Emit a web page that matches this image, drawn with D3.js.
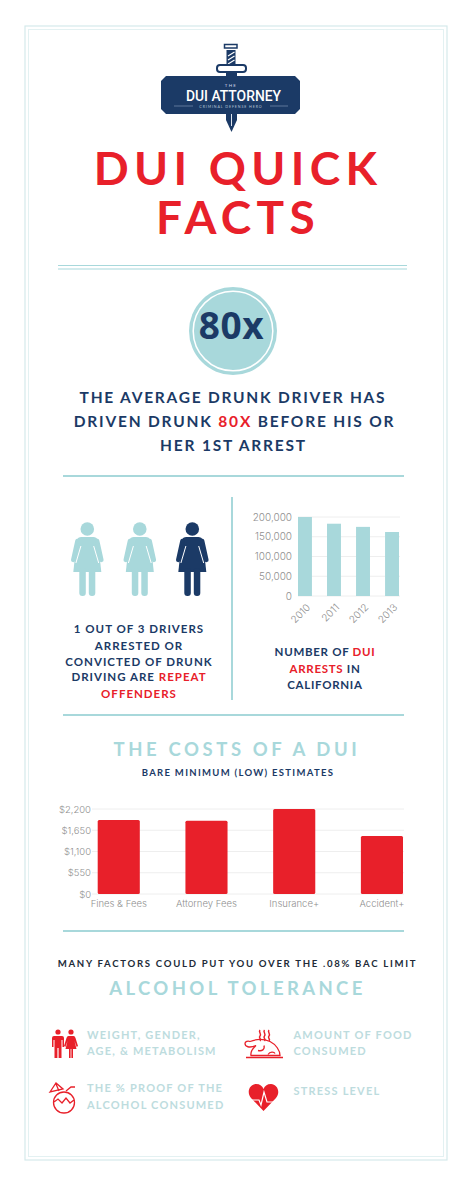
<!DOCTYPE html>
<html>
<head>
<meta charset="utf-8">
<script src="https://cdn.jsdelivr.net/npm/d3@7"></script>
<style>
  html, body { margin: 0; padding: 0; background: #fff; }
  svg { display: block; }
  text { font-family: Lato, sans-serif; }
  .axis text { font-family: Inter, "Open Sans", sans-serif; font-weight: 300; fill: #8f8f8f; }
  .axis path, .axis line { display: none; }
</style>
</head>
<body>
<svg id="chart" width="474" height="1185"></svg>
<script>
const navy = "#1b3a66", red = "#e8202a", teal = "#a8d8db", paleTeal = "#bddcde";

const arrestYears = ["2010", "2011", "2012", "2013"];
const arrestValues = [200000, 183000, 175000, 162000];
const arrestTicks = [0, 50000, 100000, 150000, 200000];

const costLabels = ["Fines & Fees", "Attorney Fees", "Insurance+", "Accident+"];
const costValues = [1915, 1895, 2200, 1500];
const costTicks = [0, 550, 1100, 1650, 2200];

const peopleColors = [teal, teal, navy];

const svg = d3.select("#chart");

// frame
svg.append("rect").attr("x", 25).attr("y", 26).attr("width", 422).attr("height", 1134)
  .attr("fill", "none").attr("stroke", "#d5eaeb").attr("stroke-width", 1.2);
svg.append("rect").attr("x", 28.5).attr("y", 29.5).attr("width", 415).attr("height", 1127)
  .attr("fill", "none").attr("stroke", "#e3f1f2").attr("stroke-width", 1);

function label(txt, x, y, size, color, spacing, weight, anchor) {
  return svg.append("text").attr("x", x).attr("y", y)
    .attr("font-size", size).attr("fill", color)
    .attr("font-weight", weight || 700)
    .attr("letter-spacing", spacing || 0)
    .attr("text-anchor", anchor || "middle")
    .text(txt);
}

// mixed colour line, parts = [[text, color], ...]
function richLabel(parts, x, y, size, spacing, anchor) {
  let t = svg.append("text").attr("x", x).attr("y", y)
    .attr("font-size", size).attr("font-weight", 700)
    .attr("letter-spacing", spacing).attr("text-anchor", anchor || "middle");
  parts.forEach(p => t.append("tspan").attr("fill", p[1]).text(p[0]));
  return t;
}

function rule(x1, y1, x2, y2, w, color) {
  svg.append("line").attr("x1", x1).attr("y1", y1).attr("x2", x2).attr("y2", y2)
    .attr("stroke", color || teal).attr("stroke-width", w || 2);
}

// logo
const logo = svg.append("g");
logo.append("rect").attr("x", 224.5).attr("y", 44.5).attr("width", 12.5).attr("height", 3.5).attr("fill", "#fff").attr("stroke", navy).attr("stroke-width", 1.5);
logo.append("rect").attr("x", 226.5).attr("y", 50).attr("width", 9).attr("height", 16).attr("fill", navy);
[53, 57, 61].forEach(y => logo.append("line").attr("x1", 228).attr("y1", y + 3).attr("x2", 234.5).attr("y2", y - 1).attr("stroke", "#fff").attr("stroke-width", 1.2));
logo.append("rect").attr("x", 217).attr("y", 65).attr("width", 29).attr("height", 7).attr("rx", 3).attr("fill", "#fff").attr("stroke", navy).attr("stroke-width", 2);
logo.append("path").attr("d", "M226 73H237V120L231.5 132L226 120Z").attr("fill", navy);
rule(231.5, 114, 231.5, 126, 1, "#dfe6ef");
logo.append("path").attr("d", "M166 76H295L300 81V109L295 114H166L161 109V81Z").attr("fill", navy);
label("THE", 231, 87, 4.5, "#cdd8e6", 1.2, 400);
label("DUI ATTORNEY", 233.5, 100.5, 15, "#fff", 0, 500)
  .style("font-family", "Roboto")
  .attr("textLength", 95).attr("lengthAdjust", "spacingAndGlyphs");
label("CRIMINAL DEFENSE HERO", 231, 107.5, 3.6, "#b9c6d8", 0.9, 400);
rule(174, 106, 193, 106, 0.6, "#8ea3c0");
rule(270, 106, 288, 106, 0.6, "#8ea3c0");

// title
label("DUI QUICK", 238, 185, 46, red, 5.3, 700);
label("FACTS", 238, 234, 46, red, 5.3, 700);

rule(58, 265.5, 407, 265.5, 1.2);
rule(58, 269, 407, 269, 1.2);

// 80x badge
svg.append("circle").attr("cx", 233).attr("cy", 331).attr("r", 44).attr("fill", teal);
svg.append("circle").attr("cx", 233).attr("cy", 331).attr("r", 39.8).attr("fill", "none").attr("stroke", "#fff").attr("stroke-width", 1.5);
label("80x", 231.5, 339, 37, navy, 0.6, 700).style("font-family", "'Open Sans'");

richLabel([["THE AVERAGE DRUNK DRIVER HAS", navy]], 233, 403, 15.5, 1.75);
richLabel([["DRIVEN DRUNK ", navy], ["80X", red], [" BEFORE HIS OR", navy]], 234.5, 427, 15.5, 1.8);
richLabel([["HER 1ST ARREST", navy]], 233.5, 451, 15.5, 1.8);

rule(63, 476, 404, 476, 2);
rule(232, 497, 232, 700, 2);
rule(63, 715, 404, 715, 2);
rule(63, 931, 404, 931, 2);

// people, drawn around the waist of the figure
const peopleX = d3.scalePoint().domain(d3.range(peopleColors.length)).range([87.3, 192.3]);
const people = svg.selectAll(".person").data(peopleColors).enter().append("g")
  .attr("class", "person")
  .attr("transform", (d, i) => `translate(${peopleX(i)},560)`);
people.append("circle").attr("cy", -31).attr("r", 6.8).attr("fill", d => d);
people.append("path").attr("d", "M-6 -23H6C8 -23 10 -22 10.5 -20L14 12H-14L-10.5 -20C-10 -22 -8 -23 -6 -23Z").attr("fill", d => d);
[-1, 1].forEach(side => {
  people.append("path").attr("d", `M${side * 10} -19L${side * 14.2} 0`)
    .attr("stroke", d => d).attr("stroke-width", 4.2).attr("stroke-linecap", "round").attr("fill", "none");
  people.append("path").attr("d", `M${side * 6.4} -14L${side * 11.4} 3`)
    .attr("stroke", "#fff").attr("stroke-width", 1).attr("fill", "none");
  people.append("rect").attr("x", side < 0 ? -8 : 1.5).attr("y", 8).attr("width", 6.5).attr("height", 28).attr("rx", 3).attr("fill", d => d);
});

richLabel([["1 OUT OF 3 DRIVERS", navy]], 139, 633, 11.5, 1);
richLabel([["ARRESTED OR", navy]], 139, 650, 11.5, 1);
richLabel([["CONVICTED OF DRUNK", navy]], 139, 666, 11.5, 1);
richLabel([["DRIVING ARE ", navy], ["REPEAT", red]], 139, 681, 11.5, 1);
richLabel([["OFFENDERS", red]], 139, 698, 11.5, 1);

// arrests chart
const arrestX = d3.scaleBand().domain(arrestYears).range([298, 399]).paddingInner(0.52).paddingOuter(0);
const arrestY = d3.scaleLinear().domain([0, 200000]).range([596, 517]);

svg.append("g").selectAll("line").data(arrestTicks).enter().append("line")
  .attr("x1", 298).attr("x2", 400)
  .attr("y1", d => arrestY(d)).attr("y2", d => arrestY(d))
  .attr("stroke", "#eeeeee");
svg.append("g").selectAll("rect").data(arrestValues).enter().append("rect")
  .attr("x", (d, i) => arrestX(arrestYears[i]))
  .attr("y", d => arrestY(d))
  .attr("width", arrestX.bandwidth())
  .attr("height", d => arrestY(0) - arrestY(d))
  .attr("fill", teal);

const arrestAxisY = svg.append("g").attr("class", "axis").attr("transform", "translate(292,0)")
  .call(d3.axisLeft(arrestY).tickValues(arrestTicks).tickSize(0).tickPadding(0).tickFormat(d3.format(",")));
arrestAxisY.selectAll("text").attr("font-size", 10);

const arrestAxisX = svg.append("g").attr("class", "axis").attr("transform", "translate(0,596)")
  .call(d3.axisBottom(arrestX).tickSize(0).tickPadding(0));
arrestAxisX.selectAll("text")
  .attr("font-size", 10)
  .attr("text-anchor", "end")
  .attr("dy", 0)
  .attr("transform", "translate(6,12) rotate(-45)");

richLabel([["NUMBER OF ", navy], ["DUI", red]], 325, 656, 11.5, 0.7);
richLabel([["ARRESTS", red], [" IN", navy]], 325, 673, 11.5, 0.7);
richLabel([["CALIFORNIA", navy]], 325, 689, 11.5, 0.7);

// costs
label("THE COSTS OF A DUI", 237, 756, 18.5, teal, 3.6, 700);
label("BARE MINIMUM (LOW) ESTIMATES", 238, 776, 9.5, navy, 1.3, 700);

const costX = d3.scaleBand().domain(costLabels).range([97.7, 403]).paddingInner(0.52).paddingOuter(0);
const costY = d3.scaleLinear().domain([0, 2200]).range([894, 809]);

svg.append("g").selectAll("line").data(costTicks).enter().append("line")
  .attr("x1", 92).attr("x2", 404)
  .attr("y1", d => costY(d)).attr("y2", d => costY(d))
  .attr("stroke", "#eeeeee");
svg.append("g").selectAll("rect").data(costValues).enter().append("rect")
  .attr("x", (d, i) => costX(costLabels[i]))
  .attr("y", d => costY(d))
  .attr("width", costX.bandwidth())
  .attr("height", d => costY(0) - costY(d))
  .attr("rx", 1.5)
  .attr("fill", red);

const costAxisY = svg.append("g").attr("class", "axis").attr("transform", "translate(91,0)")
  .call(d3.axisLeft(costY).tickValues(costTicks).tickSize(0).tickPadding(0).tickFormat(d => "$" + d3.format(",")(d)));
costAxisY.selectAll("text").attr("font-size", 9.5);

const costAxisX = svg.append("g").attr("class", "axis").attr("transform", "translate(0,894)")
  .call(d3.axisBottom(costX).tickSize(0).tickPadding(6));
costAxisX.selectAll("text").attr("font-size", 9.5);

// tolerance section
label("MANY FACTORS COULD PUT YOU OVER THE .08% BAC LIMIT", 237.5, 967, 9.6, "#222b38", 1.7, 700);
label("ALCOHOL TOLERANCE", 237.5, 995, 18.5, teal, 3.4, 700);

const factorLeft = [["WEIGHT, GENDER,", 1039], ["AGE, & METABOLISM", 1055], ["THE % PROOF OF THE", 1092], ["ALCOHOL CONSUMED", 1109]];
const factorRight = [["AMOUNT OF FOOD", 1039], ["CONSUMED", 1055], ["STRESS LEVEL", 1095]];
factorLeft.forEach(d => label(d[0], 87, d[1], 11, paleTeal, 1.2, 700, "start"));
factorRight.forEach(d => label(d[0], 293.5, d[1], 11, paleTeal, 1.2, 700, "start"));

// icons
const icons = svg.append("g").attr("fill", red).attr("stroke", red);
// man and woman
icons.append("circle").attr("cx", 58).attr("cy", 1032).attr("r", 2.6).attr("stroke", "none");
icons.append("path").attr("stroke", "none").attr("d", "M54 1036H62Q64 1036 64 1038V1047H62.5V1040H61.5V1058H58.6V1048H57.4V1058H54.5V1040H53.5V1047H52V1038Q52 1036 54 1036Z");
icons.append("circle").attr("cx", 71).attr("cy", 1032).attr("r", 2.6).attr("stroke", "none");
icons.append("path").attr("stroke", "none").attr("d", "M68.5 1036H73.5Q75 1036 75.5 1038L78 1046L76.7 1047L74.5 1041L76.5 1049H73V1058H71.4V1049H70.6V1058H69V1049H65.5L67.5 1041L65.3 1047L64 1046L66.5 1038Q67 1036 68.5 1036Z");
// coconut drink
const drink = icons.append("g").attr("fill", "none").attr("stroke-width", 1.3);
drink.append("circle").attr("cx", 64).attr("cy", 1102.5).attr("r", 10.5);
drink.append("path").attr("d", "M54 1102L58 1099L62 1103L66 1098L70 1103L74 1100");
drink.append("path").attr("d", "M50 1092L56 1083L63 1089Z M56 1084L59 1091");
drink.append("path").attr("d", "M66 1091L71 1087H75");
// roast turkey
const turkey = icons.append("g").attr("fill", "none").attr("stroke-width", 1.3);
turkey.append("path").attr("d", "M246 1057.5H283").attr("stroke-width", 1.6);
const bird = turkey.append("g").attr("transform", "translate(0,-1.5)");
bird.append("path").attr("d", "M251 1057C250 1052 254 1049 256 1047C249 1050 245 1048 245 1045C245 1043 248 1042 250 1043C255 1041 263 1040 270 1043C276 1046 280 1052 280 1057Z");
bird.append("path").attr("d", "M258 1052C262 1053 265 1051 264 1047 M268 1056C270 1053 274 1053 275 1055");
turkey.append("path").attr("d", "M260 1030C258 1032 262 1034 260 1036C258 1038 262 1039 260 1041 M264.5 1030C262.5 1032 266.5 1034 264.5 1036C262.5 1038 266.5 1039 264.5 1041 M269 1030C267 1032 271 1034 269 1036C267 1038 271 1039 269 1041").attr("stroke-width", 1.5);
// heart with pulse
icons.append("path").attr("stroke", "none").attr("d", "M263.5 1111L251 1098C246 1092 250 1084 256 1084C260 1084 262.5 1086 263.5 1089C264.5 1086 267 1084 271 1084C277 1084 281 1092 276 1098Z");
icons.append("path").attr("fill", "none").attr("stroke", "#fff").attr("stroke-width", 1.2).attr("d", "M251 1100H259L261 1105L264 1092L267 1102H276");
</script>
</body>
</html>
